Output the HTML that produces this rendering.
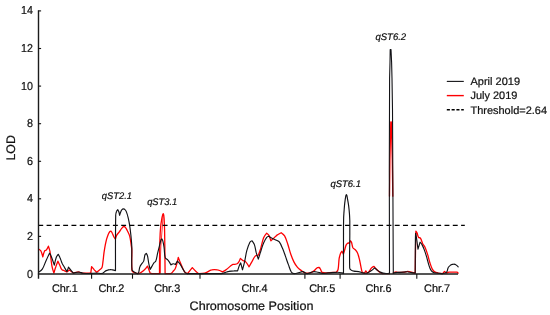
<!DOCTYPE html>
<html><head><meta charset="utf-8"><title>LOD plot</title>
<style>
html,body{margin:0;padding:0;background:#fff;}
svg{display:block;font-family:"Liberation Sans",sans-serif;fill:#111;text-rendering:geometricPrecision;}
text{stroke:#111;stroke-width:0.22;}
.ax{stroke:#1c1c1c;stroke-width:1.4;fill:none;}
.tk{stroke:#111;stroke-width:1.1;fill:none;}
.r{stroke:#fd0003;stroke-width:1.3;fill:none;stroke-linejoin:round;stroke-linecap:round;}
.b{stroke:#121216;stroke-width:1.15;fill:none;stroke-linejoin:round;stroke-linecap:round;}
</style></head><body>
<svg width="550" height="315" viewBox="0 0 550 315">
<rect width="550" height="315" fill="#fff"/>
<path class="r" d="M38.9,249.2C38.9,249.2 40.4,250.1 40.8,250.8C41.8,252.7 42.8,256.9 42.8,256.9C42.8,256.9 43.7,252.7 44.7,250.8C45.0,250.3 45.9,250.5 46.3,250.1C47.2,248.9 48.4,246.2 48.4,246.2C48.4,246.2 49.7,249.8 50.0,251.7C50.8,256.3 51.1,261.3 51.9,265.9C52.3,268.4 53.9,273.1 53.9,273.1C53.9,273.1 55.1,268.8 55.8,266.8C56.4,264.9 57.9,261.2 57.9,261.2C57.9,261.2 59.2,263.9 59.8,265.2C60.5,266.7 60.8,268.4 61.9,269.6C62.5,270.4 63.7,270.4 64.6,270.8C65.4,271.1 67.0,271.9 67.0,271.9C67.0,271.9 69.3,269.9 69.3,269.9C69.3,269.9 71.7,272.4 73.3,272.8C75.0,273.1 76.8,271.8 78.5,271.9C79.7,271.9 80.8,272.9 82.0,273.1C83.6,273.4 85.2,273.2 86.8,273.2C88.1,273.2 90.8,273.1 90.8,273.1C90.8,273.1 91.6,266.6 91.6,266.6C91.6,266.6 93.5,268.9 94.5,270.1C95.2,270.8 96.7,272.2 96.7,272.2C96.7,272.2 98.9,270.6 99.9,269.6C100.6,269.0 101.6,268.4 102.0,267.4C102.7,265.6 102.7,263.4 103.0,261.4C103.4,258.5 103.6,255.5 104.0,252.6C104.4,250.0 104.8,247.4 105.3,244.9C105.7,243.1 106.1,241.1 106.6,239.2C107.0,237.6 107.6,236.0 108.2,234.4C108.6,233.5 109.0,232.6 109.7,231.8C110.0,231.5 111.0,231.2 111.0,231.2C111.0,231.2 112.0,232.5 112.3,233.2C112.9,234.3 113.2,235.6 113.8,236.8C114.2,237.6 115.4,239.2 115.4,239.2C115.4,239.2 116.0,236.6 116.6,235.4C117.3,234.1 118.4,233.1 119.3,231.8C120.2,230.6 120.9,229.2 121.9,228.1C122.4,227.4 123.8,226.4 123.8,226.4C123.8,226.4 125.0,227.0 125.4,227.4C126.3,228.6 127.0,229.9 127.6,231.2C128.4,232.9 129.3,234.5 129.7,236.2C130.5,239.3 130.8,242.6 131.3,245.8C131.5,247.2 131.8,248.8 131.8,250.2C132.0,257.0 131.3,264.0 132.0,270.6C132.1,271.6 133.3,272.1 134.2,272.6C135.6,273.2 137.1,273.7 138.6,273.7C140.5,273.3 142.2,271.9 143.7,270.6C145.2,269.4 147.5,266.1 147.5,266.1C147.5,266.1 150.1,273.1 150.1,273.1C150.1,273.1 152.2,273.6 153.3,273.7C155.3,273.7 159.5,273.7 159.5,273.7C159.5,273.7 159.5,262.0 159.6,256.2C159.7,251.0 159.7,245.5 159.9,240.2C160.0,236.0 160.2,231.5 160.6,227.2C160.8,224.4 161.3,221.5 161.8,218.8C162.0,217.3 162.4,215.8 162.8,214.4C162.9,214.2 163.3,213.7 163.3,213.7C163.3,213.7 163.6,214.4 163.7,214.8C163.9,216.1 164.0,217.4 164.1,218.8C164.3,221.6 164.4,224.4 164.5,227.2C164.7,232.9 164.7,238.6 164.8,244.2C164.9,254.0 165.1,273.7 165.1,273.7C165.1,273.7 168.7,273.7 170.4,273.7C171.4,273.4 172.2,272.4 172.9,271.6C173.9,270.5 175.0,269.5 175.5,268.1C176.8,264.7 178.3,257.4 178.3,257.4C178.3,257.4 179.7,261.2 180.5,263.1C181.7,265.9 182.7,269.0 184.4,271.6C185.1,272.6 187.5,273.7 187.5,273.7C187.5,273.7 192.3,267.6 192.3,267.6C192.3,267.6 195.0,270.6 196.5,271.9C197.2,272.6 198.0,273.5 199.0,273.7C200.9,273.7 202.9,273.7 204.7,273.2C207.2,272.5 209.2,270.5 211.7,269.9C213.5,269.4 215.6,269.5 217.5,269.9C219.3,270.2 222.5,271.9 222.5,271.9C222.5,271.9 225.2,270.4 226.4,269.4C228.1,268.1 229.8,266.6 231.5,265.2C232.0,264.9 232.5,264.6 233.1,264.4C234.6,264.1 236.4,264.6 237.6,263.6C239.1,262.4 240.4,258.4 240.4,258.4C240.4,258.4 242.0,260.1 243.0,260.6C243.7,261.1 244.7,260.8 245.3,261.4C246.8,262.9 249.1,266.8 249.1,266.8C249.1,266.8 251.1,263.1 252.1,261.4C253.1,259.6 253.8,257.5 255.2,256.1C256.0,255.3 258.3,255.2 258.3,255.2C258.3,255.2 259.9,251.2 260.5,249.2C261.6,245.4 262.2,241.4 263.6,237.8C264.3,236.0 266.7,233.2 266.7,233.2C266.7,233.2 268.4,234.5 268.9,235.4C269.8,237.1 270.9,240.8 270.9,240.8C270.9,240.8 272.7,239.2 273.5,238.4C274.5,237.5 275.5,236.3 276.6,235.4C278.0,234.4 281.2,232.7 281.2,232.7C281.2,232.7 283.8,234.6 284.6,235.9C286.1,238.5 286.9,241.5 287.8,244.3C288.9,247.6 289.7,251.1 290.8,254.3C291.7,256.9 292.7,259.5 293.9,261.9C294.9,263.9 296.1,265.8 297.5,267.4C298.7,268.8 300.3,269.9 301.8,270.9C302.7,271.6 303.7,272.4 304.8,272.9C305.6,273.2 306.6,273.1 307.5,273.1C308.5,273.2 309.6,273.3 310.5,272.9C311.8,272.5 312.9,271.7 314.0,270.9C315.0,270.0 315.7,268.8 316.8,268.1C317.4,267.6 318.9,267.4 318.9,267.4C318.9,267.4 320.0,268.2 320.3,268.8C320.9,269.8 321.7,272.2 321.7,272.2C321.7,272.2 324.0,272.9 325.2,272.9C328.9,272.9 336.4,272.2 336.4,272.2C336.4,272.2 337.9,270.5 338.1,269.4C338.8,265.8 338.6,261.9 339.2,258.2C339.5,256.6 340.0,254.9 340.6,253.3C340.9,252.6 342.0,251.2 342.0,251.2C342.0,251.2 343.4,254.1 343.4,254.1C343.4,254.1 344.1,251.7 344.5,250.6C345.1,248.7 345.3,246.7 346.2,244.9C346.6,244.1 348.3,242.8 348.3,242.8C348.3,242.8 349.3,243.6 349.3,243.6C349.3,243.6 350.4,240.8 350.4,240.8C350.4,240.8 351.3,241.6 351.5,242.2C352.1,243.9 352.1,246.0 352.9,247.8C353.4,248.7 354.6,249.1 355.3,249.8C356.1,250.7 356.9,251.6 357.4,252.7C358.4,254.9 358.9,257.3 359.5,259.6C360.1,261.9 360.4,264.4 360.9,266.6C361.3,268.5 361.4,270.6 362.3,272.2C362.7,272.9 364.4,273.4 364.4,273.4C364.4,273.4 365.8,270.9 365.8,270.9C365.8,270.9 367.2,272.9 367.2,272.9C367.2,272.9 368.5,272.3 368.9,271.8C369.9,270.6 370.5,269.1 371.5,267.9C372.2,267.2 374.0,266.4 374.0,266.4C374.0,266.4 375.6,268.3 376.5,269.2C377.3,270.1 378.2,271.0 379.1,271.8C379.8,272.3 380.7,272.8 381.5,273.2C382.0,273.5 382.5,273.7 383.0,273.7C385.1,273.7 389.3,273.7 389.3,273.7"/>
<polyline class="r" style="stroke-width:1.3" points="389.5,196.2 389.9,160.2 390.8,122.0 391.3,122.0 392.3,160.2 392.8,196.2"/>
<polyline class="r" style="stroke-width:0.8" points="160.4,273.4 160.5,256 160.9,246 161.6,236 162.3,227 163.1,215.5"/>
<path class="r" d="M393.3,273.1C393.3,273.1 394.7,271.9 395.6,271.8C396.3,271.7 396.8,272.4 397.5,272.4C399.6,272.6 401.8,272.4 403.9,272.1C405.2,272.0 406.4,271.4 407.7,271.4C409.0,271.4 410.3,271.9 411.5,272.1C412.7,272.4 415.2,273.1 415.2,273.1C415.2,273.1 415.4,257.8 415.5,250.2C415.6,243.9 415.9,231.1 415.9,231.1C415.9,231.1 416.9,232.5 417.2,233.3C417.7,234.6 417.7,236.2 418.5,237.3C418.9,237.9 420.0,237.6 420.4,238.2C421.5,239.8 421.9,242.0 422.8,243.8C423.5,245.1 424.6,246.3 425.2,247.7C426.1,249.7 426.8,251.9 427.5,254.1C428.4,256.9 429.0,259.9 429.9,262.8C430.6,264.9 431.3,267.2 432.3,269.1C432.9,270.2 433.7,271.3 434.7,271.9C435.9,272.7 437.4,272.8 438.7,273.1C440.0,273.3 442.6,273.6 442.6,273.6C442.6,273.6 444.5,271.4 444.5,271.4C444.5,271.4 446.6,273.1 446.6,273.1C446.6,273.1 448.2,272.3 449.0,272.2C451.6,272.0 454.3,272.0 456.9,272.2C457.4,272.3 458.2,273.1 458.2,273.1"/>
<line x1="38.3" y1="225.3" x2="464.8" y2="225.3" stroke="#000" stroke-width="1.35" stroke-dasharray="4.9 3.39"/>
<path class="b" d="M38.9,271.9C38.9,271.9 41.5,270.4 42.3,269.1C43.9,266.8 44.6,263.8 45.8,261.2C47.0,258.6 49.5,253.2 49.5,253.2C49.5,253.2 50.7,254.8 51.0,255.7C52.2,258.7 54.3,265.1 54.3,265.1C54.3,265.1 55.4,259.8 56.3,257.2C56.7,256.2 58.2,254.3 58.2,254.3C58.2,254.3 59.4,256.2 59.8,257.2C60.7,259.3 61.3,261.5 62.2,263.6C62.9,264.9 63.8,266.2 64.6,267.6C65.4,268.9 67.0,271.6 67.0,271.6C67.0,271.6 68.5,267.1 68.5,267.1C68.5,267.1 69.6,268.5 70.1,269.1C71.1,270.5 73.3,273.1 73.3,273.1C73.3,273.1 76.0,272.4 77.3,272.2C78.1,272.1 78.9,272.1 79.7,272.2C81.0,272.5 82.3,273.1 83.6,273.2C86.2,273.5 89.0,273.5 91.6,273.4C93.2,273.4 94.7,273.1 96.3,273.1C98.3,273.1 100.4,273.7 102.4,273.4C103.2,273.3 103.6,272.3 104.3,271.9C105.1,271.3 105.9,270.7 106.8,270.4C107.8,269.9 108.9,269.6 110.0,269.6C110.8,269.5 111.7,269.8 112.5,269.9C113.5,270.1 115.5,270.6 115.5,270.6C115.5,270.6 115.4,233.5 115.7,215.2C115.7,213.9 116.1,212.5 116.6,211.2C116.8,210.6 117.8,209.7 117.8,209.7C117.8,209.7 118.6,211.0 118.8,211.8C119.2,212.9 119.6,215.3 119.6,215.3C119.6,215.3 120.2,213.2 120.6,212.2C121.0,211.3 121.3,210.3 121.9,209.6C122.3,209.1 122.8,208.8 123.4,208.8C124.0,208.8 124.6,209.1 125.0,209.6C125.6,210.1 126.0,210.8 126.3,211.6C127.1,213.6 127.7,215.7 128.2,217.8C128.8,220.4 129.3,223.0 129.7,225.6C130.2,229.1 130.6,232.7 131.0,236.2C131.3,239.6 131.7,243.1 131.8,246.4C132.0,254.2 131.3,262.2 132.0,269.9C132.1,270.9 133.4,271.3 134.2,271.9C135.2,272.5 137.4,273.7 137.4,273.7C137.4,273.7 138.4,273.1 138.6,272.6C139.3,270.7 139.2,268.6 139.9,266.8C140.3,265.6 141.1,264.6 141.8,263.6C142.4,262.8 143.3,262.1 143.7,261.1C144.4,259.1 144.3,256.8 145.0,254.8C145.2,254.2 146.3,253.4 146.3,253.4C146.3,253.4 147.3,255.1 147.5,255.9C148.1,258.5 148.3,261.1 148.8,263.6C149.2,265.5 150.1,269.4 150.1,269.4C150.1,269.4 151.4,267.2 152.0,266.1C152.6,265.1 153.2,263.9 153.9,262.9C154.4,262.2 155.5,261.9 155.8,261.1C156.8,258.4 157.0,255.5 157.7,252.8C158.3,250.2 159.0,247.7 159.6,245.2C160.0,243.4 160.4,241.6 161.0,239.8C161.1,239.5 161.8,238.8 161.8,238.8C161.8,238.8 162.6,240.1 162.8,240.8C163.4,243.0 163.8,245.4 164.1,247.8C164.6,251.1 164.3,254.7 165.3,257.9C165.6,258.9 167.1,259.0 167.8,259.9C169.1,261.4 171.0,264.9 171.0,264.9C171.0,264.9 172.2,263.8 172.9,263.8C173.8,263.6 175.5,264.4 175.5,264.4C175.5,264.4 177.4,261.1 177.4,261.1C177.4,261.1 179.2,262.8 179.9,263.8C181.1,265.5 181.9,267.7 183.1,269.4C184.2,271.0 185.0,273.4 186.9,273.6C198.2,273.7 210.0,273.7 221.3,273.6C222.6,273.6 223.9,273.0 225.1,272.6C226.4,272.3 227.6,271.6 228.9,271.4C230.6,271.0 232.3,270.9 234.0,270.9C235.2,270.8 237.6,270.9 237.6,270.9C237.6,270.9 238.6,267.6 239.2,265.9C239.6,264.9 240.7,262.9 240.7,262.9C240.7,262.9 242.5,269.8 242.5,269.8C242.5,269.8 243.9,264.7 244.5,262.1C245.4,258.4 245.8,254.4 246.8,250.7C247.6,247.8 248.5,244.9 249.9,242.2C250.3,241.5 252.1,240.8 252.1,240.8C252.1,240.8 253.9,243.2 254.4,244.6C255.3,247.2 255.6,250.2 256.3,252.9C256.9,255.0 258.3,259.1 258.3,259.1C258.3,259.1 259.8,254.5 260.5,252.2C261.5,249.2 262.3,246.0 263.6,243.1C264.5,241.0 265.5,238.9 266.9,237.2C267.3,236.6 268.9,236.2 268.9,236.2C268.9,236.2 270.9,237.7 272.0,238.2C273.2,238.9 274.6,239.3 275.8,239.9C277.0,240.6 278.5,240.9 279.3,241.9C280.7,243.7 281.5,246.0 282.4,248.1C283.6,250.8 284.5,253.7 285.5,256.4C286.5,259.2 287.4,262.2 288.5,264.9C289.4,267.3 290.0,269.9 291.4,272.1C292.0,272.9 293.1,273.5 294.1,273.6C296.2,273.6 298.2,272.7 300.2,272.2C301.1,272.1 301.9,271.4 302.8,271.6C304.3,271.9 305.5,273.5 307.0,273.6C308.5,273.7 309.8,272.7 311.2,272.2C312.1,272.0 313.0,271.6 314.0,271.6C315.4,271.6 316.8,272.0 318.2,272.2C319.6,272.6 321.0,273.2 322.4,273.4C324.2,273.5 326.2,273.1 328.0,272.9C331.2,272.7 334.6,272.2 337.8,272.2C339.2,272.2 340.6,272.6 342.0,272.9C342.5,273.1 343.5,273.6 343.5,273.6C343.5,273.6 343.5,245.9 343.5,232.2C343.5,228.4 343.5,224.5 343.6,220.7C343.6,218.1 343.7,215.6 343.9,213.1C344.1,210.5 344.3,208.0 344.5,205.4C344.7,203.2 345.0,201.0 345.3,198.8C345.5,197.6 345.7,196.4 346.0,195.2C346.1,195.0 346.4,194.6 346.4,194.6C346.4,194.6 346.7,195.0 346.8,195.2C347.1,196.4 347.3,197.6 347.5,198.8C347.9,201.0 348.3,203.2 348.6,205.4C348.9,207.9 349.2,210.5 349.4,213.1C349.6,215.6 349.7,218.1 349.8,220.7C349.8,225.5 349.8,230.4 349.8,235.2C349.8,246.1 349.3,257.2 349.7,268.1C349.7,268.9 350.4,269.7 351.1,270.1C351.9,270.7 352.9,271.0 353.9,271.1C355.5,271.4 357.2,271.2 358.8,271.6C360.2,271.8 361.6,272.7 363.0,272.9C364.3,273.2 365.7,273.3 367.0,273.1C368.4,272.7 369.6,271.9 370.8,271.1C372.2,270.2 374.6,267.9 374.6,267.9C374.6,267.9 376.7,269.8 377.8,270.6C378.8,271.3 379.9,272.0 381.0,272.4C382.2,272.9 383.5,273.3 384.8,273.4C386.3,273.6 389.4,273.2 389.4,273.2"/>
<polyline class="b" style="stroke-width:1.1" points="389.5,273.2 389.3,170.2 389.5,110.2 389.6,78.2 390.0,62.2 390.2,49.5 391.0,49.5 391.6,62.2 392.0,78.2 392.5,110.2 392.8,170.2 393.3,273.2"/>
<path class="b" d="M393.3,273.1C393.3,273.1 396.1,272.6 397.5,272.4C399.6,272.3 401.8,272.3 403.9,272.1C405.2,272.1 406.4,271.7 407.7,271.8C409.0,271.8 410.2,272.4 411.5,272.6C412.7,272.9 415.2,273.1 415.2,273.1C415.2,273.1 415.3,251.1 415.4,240.2C415.4,238.0 415.6,233.3 415.6,233.3C415.6,233.3 416.2,236.0 416.4,237.3C417.0,241.3 418.0,249.2 418.0,249.2C418.0,249.2 420.1,242.2 420.1,242.2C420.1,242.2 421.5,243.7 422.0,244.6C422.9,246.3 423.7,248.2 424.4,250.1C425.3,252.4 426.0,254.9 426.7,257.2C427.5,260.1 428.2,263.1 429.1,265.9C429.6,267.6 430.2,269.3 431.2,270.6C431.8,271.5 432.9,272.2 433.9,272.6C435.2,273.0 436.6,272.9 437.9,273.1C439.4,273.2 441.0,273.7 442.6,273.6C444.0,273.4 445.7,273.3 446.6,272.2C447.7,271.1 447.4,269.0 448.2,267.6C448.7,266.6 449.7,265.8 450.6,265.1C451.5,264.6 452.6,264.1 453.7,264.1C454.5,264.0 455.4,264.4 456.1,264.9C456.9,265.3 458.2,266.8 458.2,266.8"/>
<line class="ax" x1="38.5" y1="10.3" x2="38.5" y2="278.7"/>
<line class="ax" x1="37.9" y1="274.0" x2="458" y2="274.0"/>
<text x="32.9" y="277.55" font-size="11.5" text-anchor="end" textLength="6.0" lengthAdjust="spacingAndGlyphs">0</text>
<line class="tk" x1="38.5" y1="236.4" x2="41.1" y2="236.4"/>
<text x="32.9" y="239.97" font-size="11.5" text-anchor="end" textLength="6.0" lengthAdjust="spacingAndGlyphs">2</text>
<line class="tk" x1="38.5" y1="198.8" x2="41.1" y2="198.8"/>
<text x="32.9" y="202.39" font-size="11.5" text-anchor="end" textLength="6.0" lengthAdjust="spacingAndGlyphs">4</text>
<line class="tk" x1="38.5" y1="161.3" x2="41.1" y2="161.3"/>
<text x="32.9" y="164.81" font-size="11.5" text-anchor="end" textLength="6.0" lengthAdjust="spacingAndGlyphs">6</text>
<line class="tk" x1="38.5" y1="123.7" x2="41.1" y2="123.7"/>
<text x="32.9" y="127.23" font-size="11.5" text-anchor="end" textLength="6.0" lengthAdjust="spacingAndGlyphs">8</text>
<line class="tk" x1="38.5" y1="86.1" x2="41.1" y2="86.1"/>
<text x="32.9" y="89.65" font-size="11.5" text-anchor="end" textLength="11.9" lengthAdjust="spacingAndGlyphs">10</text>
<line class="tk" x1="38.5" y1="48.5" x2="41.1" y2="48.5"/>
<text x="32.9" y="52.07" font-size="11.5" text-anchor="end" textLength="11.9" lengthAdjust="spacingAndGlyphs">12</text>
<line class="tk" x1="38.5" y1="10.9" x2="41.1" y2="10.9"/>
<text x="32.9" y="14.49" font-size="11.5" text-anchor="end" textLength="11.9" lengthAdjust="spacingAndGlyphs">14</text>
<line class="tk" x1="91.6" y1="274.0" x2="91.6" y2="278.7"/>
<line class="tk" x1="132.5" y1="274.0" x2="132.5" y2="278.7"/>
<line class="tk" x1="200.0" y1="274.0" x2="200.0" y2="278.7"/>
<line class="tk" x1="304.9" y1="274.0" x2="304.9" y2="278.7"/>
<line class="tk" x1="340.1" y1="274.0" x2="340.1" y2="278.7"/>
<line class="tk" x1="416.8" y1="274.0" x2="416.8" y2="278.7"/>
<text x="64.9" y="291.8" font-size="11" text-anchor="middle" textLength="26.0" lengthAdjust="spacingAndGlyphs">Chr.1</text>
<text x="111.4" y="291.8" font-size="11" text-anchor="middle" textLength="26.0" lengthAdjust="spacingAndGlyphs">Chr.2</text>
<text x="167.2" y="291.8" font-size="11" text-anchor="middle" textLength="26.0" lengthAdjust="spacingAndGlyphs">Chr.3</text>
<text x="254.5" y="291.8" font-size="11" text-anchor="middle" textLength="26.0" lengthAdjust="spacingAndGlyphs">Chr.4</text>
<text x="322.2" y="291.8" font-size="11" text-anchor="middle" textLength="26.0" lengthAdjust="spacingAndGlyphs">Chr.5</text>
<text x="378.5" y="291.8" font-size="11" text-anchor="middle" textLength="26.0" lengthAdjust="spacingAndGlyphs">Chr.6</text>
<text x="437.1" y="291.8" font-size="11" text-anchor="middle" textLength="26.0" lengthAdjust="spacingAndGlyphs">Chr.7</text>
<text x="189.6" y="310.1" font-size="12.3" textLength="123.8" lengthAdjust="spacingAndGlyphs">Chromosome Position</text>
<text transform="translate(15.3,147.9) rotate(-90)" font-size="12.4" text-anchor="middle" textLength="25.4" lengthAdjust="spacingAndGlyphs">LOD</text>
<text x="116.9" y="199.3" font-size="9.6" font-style="italic" text-anchor="middle" textLength="30.1" lengthAdjust="spacingAndGlyphs">qST2.1</text>
<text x="162.2" y="205.2" font-size="9.6" font-style="italic" text-anchor="middle" textLength="30.1" lengthAdjust="spacingAndGlyphs">qST3.1</text>
<text x="345.7" y="186.6" font-size="9.6" font-style="italic" text-anchor="middle" textLength="30.4" lengthAdjust="spacingAndGlyphs">qST6.1</text>
<text x="390.8" y="40.3" font-size="9.6" font-style="italic" text-anchor="middle" textLength="30.7" lengthAdjust="spacingAndGlyphs">qST6.2</text>
<line x1="446.8" y1="81.4" x2="463.8" y2="81.4" stroke="#121216" stroke-width="1.1"/>
<line x1="446.8" y1="95.6" x2="463.8" y2="95.6" stroke="#fd0003" stroke-width="1.4"/>
<line x1="446.8" y1="109.8" x2="463.8" y2="109.8" stroke="#000" stroke-width="1.6" stroke-dasharray="3.1 1.7"/>
<text x="470.5" y="85.2" font-size="10.9" textLength="49.5" lengthAdjust="spacingAndGlyphs">April 2019</text>
<text x="470.5" y="99.3" font-size="10.9" textLength="46.9" lengthAdjust="spacingAndGlyphs">July 2019</text>
<text x="470.5" y="113.7" font-size="10.9" textLength="76.5" lengthAdjust="spacingAndGlyphs">Threshold=2.64</text>
</svg></body></html>
